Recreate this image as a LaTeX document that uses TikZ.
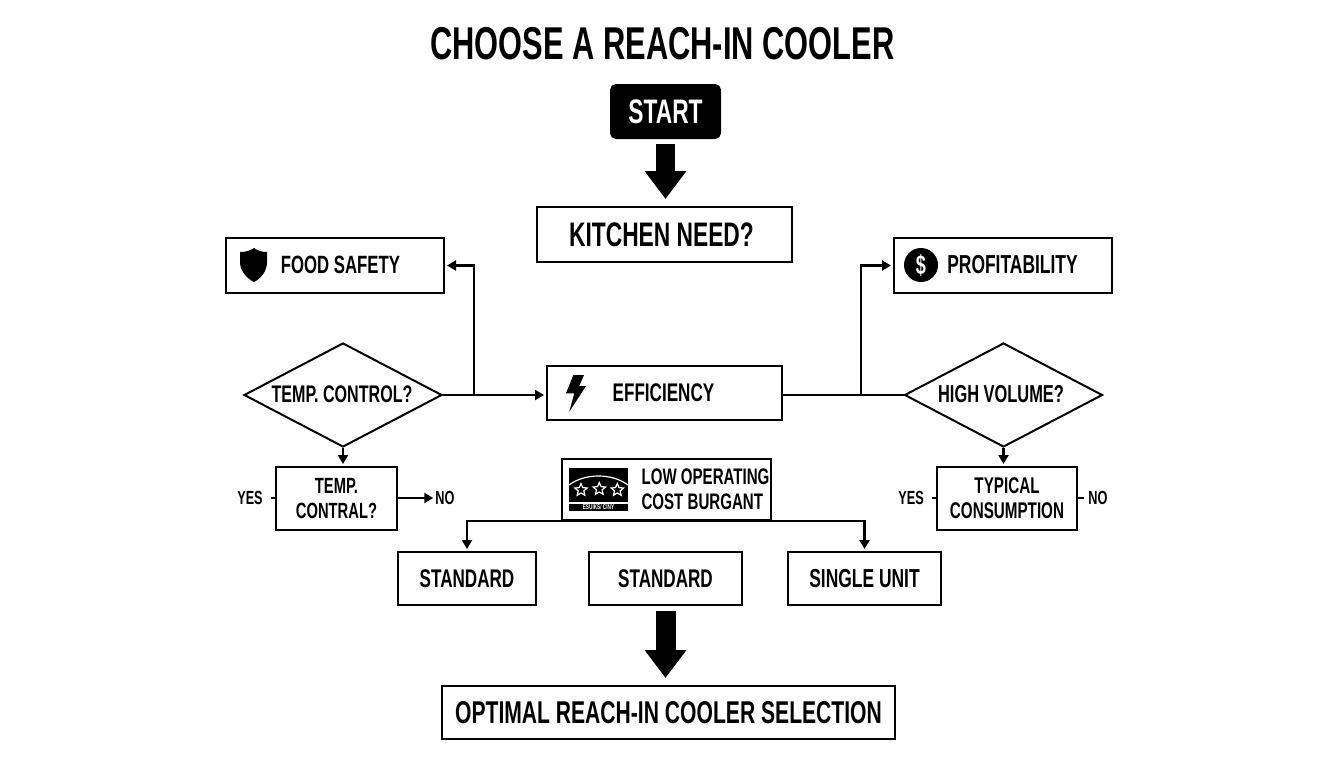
\documentclass[tikz,border=0pt]{standalone}
\usepackage{fontspec}
\setmainfont[FakeStretch=0.67]{Liberation Sans}
\usetikzlibrary{shapes.geometric,shapes.misc,arrows.meta,calc}
\newcommand{\fsz}[1]{\fontsize{#1}{#1}\selectfont}
\tikzset{
 box/.style={draw=black,line width=2pt,fill=white,inner sep=0pt,align=center,font=\bfseries},
 dec/.style={draw=black,line width=2pt,fill=white,diamond,shape aspect=1.9,inner sep=0pt,minimum width=198pt,minimum height=104pt},
 conn/.style={draw=black,line width=2.6pt},
 arr/.style={conn,-{Triangle[length=9pt,width=10pt]},shorten >=2pt},
 block/.style={line width=20pt,-{Triangle[length=28pt,width=40pt]}},
 lbl/.style={inner sep=0pt,font=\bfseries,align=center},
 two/.style={font=\bfseries\fontsize{#1}{25}\selectfont},
}
\begin{document}
\begin{tikzpicture}[x=1pt,y=-1pt]
\useasboundingbox (0,0) rectangle (1344,768);
\node[lbl] (title) at (662.5,44) {\fsz{46}CHOOSE A REACH-IN COOLER};
\node[box,fill=black,text=white,rounded corners=5pt,minimum width=109pt,minimum height=53pt] (start) at (665.5,111.5) {\fsz{34}START};
\node[box,minimum width=255pt,minimum height=55pt] (need) at (664.5,234.5) {};
\node[lbl] (needt) at (661.5,234.5) {\fsz{34}KITCHEN NEED?};
\node[box,minimum width=218pt,minimum height=55pt] (food) at (335,265.5) {};
\node[lbl] (foodt) at (340.5,265) {\fsz{25}FOOD SAFETY};
\node[box,minimum width=218pt,minimum height=55pt] (prof) at (1003,265.5) {};
\node[lbl] (proft) at (1012.5,265) {\fsz{26}PROFITABILITY};
\node[dec] (tc) at (343,395) {};
\node[lbl] (tct) at (342,394) {\fsz{24}TEMP. CONTROL?};
\node[dec] (hv) at (1003.5,395) {};
\node[lbl] (hvt) at (1001,394) {\fsz{24.5}HIGH VOLUME?};
\node[box,minimum width=235pt,minimum height=54pt] (eff) at (664.5,393) {};
\node[lbl] (efft) at (663.5,393) {\fsz{25.5}EFFICIENCY};
\node[box,two=22,minimum width=121pt,minimum height=63pt] (tc2) at (336.5,498.5) {TEMP.\\CONTRAL?};
\node[box,two=22.7,minimum width=140pt,minimum height=63pt] (tp) at (1007,498.5) {TYPICAL\\CONSUMPTION};
\node[box,minimum width=209pt,minimum height=61pt] (low) at (666.5,489.5) {};
\node[lbl,align=left,two=22.5] (lowt) at (705.5,489) {LOW OPERATING\\COST BURGANT};
\node[box,minimum width=138pt,minimum height=53pt] (s1) at (467,578.5) {\fsz{25.5}STANDARD};
\node[box,minimum width=153pt,minimum height=53pt] (s2) at (665.5,578.5) {\fsz{25.5}STANDARD};
\node[box,minimum width=153pt,minimum height=53pt] (s3) at (864.5,578.5) {\fsz{26}SINGLE UNIT};
\node[box,minimum width=453pt,minimum height=53pt] (opt) at (668.5,712.5) {\fsz{31.5}OPTIMAL REACH-IN COOLER SELECTION};
\node[lbl] (y1) at (250,498) {\fsz{19}YES};
\node[lbl] (n1) at (445,498) {\fsz{19}NO};
\node[lbl] (y2) at (911,498) {\fsz{19}YES};
\node[lbl] (n2) at (1098,498) {\fsz{19}NO};
% connectors
\coordinate (bl) at (474,395);
\coordinate (br) at (861,395);
\draw[block,shorten <=5pt,shorten >=7pt,line width=19pt] (start.south) -- (start.south |- need.north);
\draw[block,shorten <=5pt,shorten >=7pt] (s2.south) -- (s2.south |- opt.north);
\draw[arr] (tc.east) -- (tc.east -| eff.west);
\draw[arr] (bl) |- (food.east);
\draw[conn] (hv.west -| eff.east) -- (hv.west);
\draw[arr] (br) |- (prof.west);
\draw[arr] (tc.south) -- (tc2.north -| tc.south);
\draw[arr] (hv.south) -- (tp.north -| hv.south);
\draw[conn] (y1.east) ++(8,0) -- (y1.east -| tc2.west);
\draw[arr] (n1.west -| tc2.east) -- (n1.west);
\draw[conn] (y2.east) ++(8,0) -- (y2.east -| tp.west);
\draw[conn] (n2.west -| tp.east) -- ++(6,0);
\draw[arr] (low.south) -| (s1.north);
\draw[arr] (low.south) -| (s3.north);
% icons
\fill (254,248) .. controls (250,251) and (245,252) .. (240,252) -- (240,262) .. controls (240,272) and (248,279) .. (254,282) .. controls (260,279) and (267,272) .. (267,262) -- (267,252) .. controls (262,252) and (258,251) .. (254,248) -- cycle;
\fill (573.3,375) -- (584,375) -- (579.3,386) -- (586,386) -- (569.3,411.7) -- (574.3,393.3) -- (566,393.3) -- cycle;
\fill (921,265) circle (17);
\node[lbl,text=white] (dollar) at (921,265) {\fsz{27}\$};
\fill (569,468) rectangle (628,502);
\fill (569,503.5) rectangle (628,511);
\draw[white,line width=1.2pt] (569,485) .. controls (585,473) and (612,473) .. (628,485);
\foreach \n/\x/\y in {a/581/490,b/599.3/489,c/617.3/490}
  \node[star,star points=5,star point ratio=2.2,draw=white,line width=1.2pt,fill=black,minimum size=13pt,inner sep=0pt] (st\n) at (\x,\y) {};
\node[lbl,text=white] (bandt) at (598.5,507.3) {\fsz{7}ESUIKS/ CINY};
\end{tikzpicture}
\end{document}
